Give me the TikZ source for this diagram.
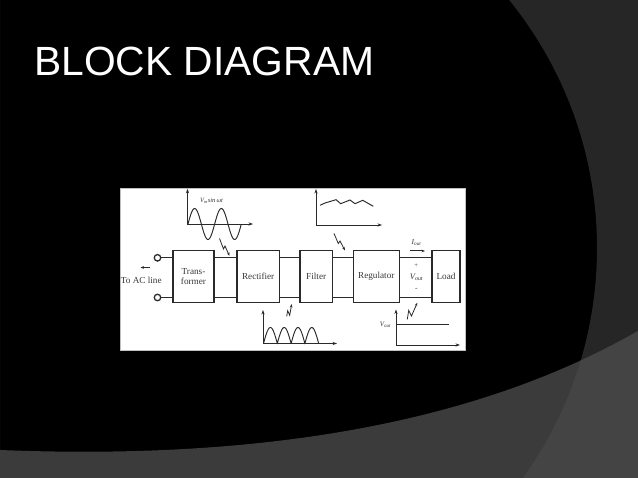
\documentclass[tikz,border=0pt]{standalone}
\usepackage{fontspec}
\setmainfont{Liberation Serif}
\newfontfamily\titlefont{Liberation Sans}
\usetikzlibrary{arrows.meta}
\definecolor{bgdark}{HTML}{262626}
\definecolor{bgband}{HTML}{3B3B3B}
\definecolor{bgbandlt}{HTML}{444444}
\definecolor{ink}{HTML}{2A2A2A}
\definecolor{inktext}{HTML}{383838}
\begin{document}
\begin{tikzpicture}[x=1pt,y=-1pt,
  blk/.style={draw=ink,line width=1.3pt,fill=white,inner sep=0pt,minimum height=51.8pt,
    font=\fontsize{9.2}{10}\selectfont,text=inktext,align=center},
  wire/.style={draw=ink,line width=1.3pt},
  axis/.style={draw=ink,line width=0.95pt,-{Stealth[length=4.5pt,width=3.2pt]}},
  wave/.style={draw=ink,line width=0.95pt},
  bolt/.style={draw=ink,line width=0.8pt,-{Stealth[length=3.5pt,width=2.6pt]}},
  term/.style={circle,draw=ink,line width=1.3pt,minimum size=6.5pt,inner sep=0pt,fill=white},
  lbl/.style={text=inktext,inner sep=0pt}]
\useasboundingbox (0,0) rectangle (638,478);
% background
\fill[black] (0,0) rectangle (638,478);
\begin{scope}
  \clip (0,0) rectangle (638,478);
  \fill[bgdark, even odd rule] (0,0) rectangle (638,478) (203,248) circle[radius=394];
  \fill[bgband] (0,450) .. controls (300,462) and (500,410) .. (638,331) -- (638,478) -- (0,478) -- cycle;
  \begin{scope}
    \clip (0,450) .. controls (300,462) and (500,410) .. (638,331) -- (638,478) -- (0,478) -- cycle;
    \fill[bgbandlt, even odd rule] (0,0) rectangle (638,478) (203,248) circle[radius=394];
  \end{scope}
\end{scope}
% title
\node[anchor=base west,text=white,inner sep=0pt,font=\titlefont\fontsize{40.8}{41}\selectfont] (title) at (34,75.5) {BLOCK DIAGRAM};
% white panel
\node[fill=white,draw=gray!50,line width=0.6pt,inner sep=0pt,minimum width=345pt,minimum height=162.5pt,anchor=north west] (panel) at (120,188) {};
% blocks
\node[blk,minimum width=41pt] (tr) at (193.5,276.6) {Trans-\\former};
\node[blk,minimum width=42.3pt] (rec) at (258.2,276.6) {Rectifier};
\node[blk,minimum width=32.3pt] (fil) at (316.2,276.6) {Filter};
\node[blk,minimum width=46pt] (reg) at (376.3,276.6) {Regulator};
\node[blk,minimum width=28pt] (load) at (446,276.6) {Load};
\coordinate (hi) at (0,257.8);
\coordinate (lo) at (0,297.5);
% terminals
\node[term] (t1) at (157.5,257.8) {};
\node[term] (t2) at (157.5,297.5) {};
\draw[wire] (t1.east) -- (tr.west |- t1);
\draw[wire] (t2.east) -- (tr.west |- t2);
\draw[wire] (tr.east |- hi) -- (rec.west |- hi);
\draw[wire] (tr.east |- lo) -- (rec.west |- lo);
\draw[wire] (rec.east |- hi) -- (fil.west |- hi);
\draw[wire] (rec.east |- lo) -- (fil.west |- lo);
\draw[wire] (fil.east |- hi) -- (reg.west |- hi);
\draw[wire] (fil.east |- lo) -- (reg.west |- lo);
\draw[wire] (reg.east |- hi) -- (load.west |- hi);
\draw[wire] (reg.east |- lo) -- (load.west |- lo);
% AC line
\coordinate (acA) at (149.5,267.5);
\coordinate (acB) at (140.5,267.5);
\draw[bolt] (acA) -- (acB);
\node[lbl,font=\fontsize{9.2}{10}\selectfont] (acl) at (141.3,280) {To AC line};
% output labels
\node[lbl,font=\fontsize{7.5}{7.5}\selectfont\itshape] (iout) at (416.5,242.5) {I\textsubscript{out}};
\coordinate (ioA) at (410,251);
\coordinate (ioB) at (425,251);
\draw[bolt,line width=1pt] (ioA) -- (ioB);
\node[lbl,font=\fontsize{6.5}{6.5}\selectfont] (plus) at (416.3,265.3) {+};
\node[lbl,font=\fontsize{8.5}{8.5}\selectfont\itshape] (vout) at (416.5,277.3) {V\textsubscript{out}};
\node[lbl,font=\fontsize{7.5}{7.5}\selectfont] (minus) at (416.3,289.3) {-};
% sine graph
\draw[axis] (187.5,225) -- (187.5,188.8);
\draw[axis] (187.5,224) -- (253,224);
\draw[wave] plot[domain=0:53.3,samples=100,smooth] ({188+\x},{224-15.5*sin(\x*13.5)});
\node[lbl,font=\fontsize{6.5}{6.5}\selectfont\itshape] (g1l) at (211.5,201) {V\textsubscript{m}sin\,ωt};
% ripple graph
\draw[axis] (316,225.5) -- (316,189);
\draw[axis] (316,225) -- (382,225);
\draw[wave] (320,205.3) -- (325,203) -- (336,199.7) -- (340.7,203.7) -- (350,200) -- (355,203.7) -- (362.7,200.3) -- (373.3,206.3);
% rectified graph
\draw[axis] (263,344) -- (263,310);
\draw[axis] (263,343.5) -- (337,343.5);
\draw[wave] plot[domain=0:55.2,samples=160] ({263.5+\x},{343.5-16*abs(sin(\x*13.043))});
% Vout graph
\draw[axis] (396,345.5) -- (396,309.5);
\draw[axis] (396,345) -- (460,345);
\draw[draw=ink,line width=1.6pt] (396,324.5) -- (448.5,324.5);
\node[lbl,font=\fontsize{7}{7}\selectfont\itshape] (g4l) at (385.5,325) {V\textsubscript{out}};
% lightning arrows
\draw[bolt] (219.5,238.5) -- (223.5,249) -- (225,246) -- (229.5,256);
\draw[bolt] (334,233.5) -- (338.3,243.5) -- (340,241) -- (345,250.5);
\draw[bolt] (286.7,316.3) -- (287.7,310.7) -- (289.7,315.3) -- (291.7,304);
\draw[bolt] (407.3,319.3) -- (408.7,310.5) -- (411.5,316) -- (417.3,302.7);
\end{tikzpicture}
\end{document}
